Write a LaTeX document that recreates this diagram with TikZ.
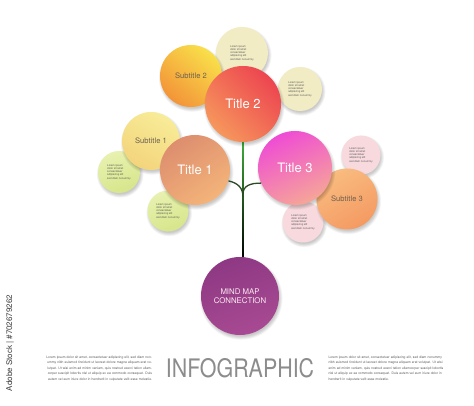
\documentclass[tikz,border=0pt]{standalone}
\usepackage{fontspec}
\setmainfont{TeX Gyre Heros}
\usetikzlibrary{calc}
\definecolor{creamc}{HTML}{F1ECC4}
\definecolor{pinkc}{HTML}{F8DADE}
\definecolor{subtxt}{HTML}{6E6150}
\definecolor{lorem}{HTML}{5A5A5A}
\definecolor{gA}{HTML}{E8F1B0}
\definecolor{gB}{HTML}{D6E68A}
\definecolor{sbA}{HTML}{F9E04A}
\definecolor{sbB}{HTML}{F39438}
\definecolor{saA}{HTML}{F8EC98}
\definecolor{saB}{HTML}{F3D47C}
\definecolor{scA}{HTML}{F9BC80}
\definecolor{scB}{HTML}{F49A62}
\definecolor{tbA}{HTML}{ED4550}
\definecolor{tbB}{HTML}{F6975C}
\definecolor{taA}{HTML}{DD8E6E}
\definecolor{taB}{HTML}{F4B47A}
\definecolor{tcA}{HTML}{EF4CD4}
\definecolor{tcB}{HTML}{F6A698}
\definecolor{mmA}{HTML}{8E3883}
\definecolor{mmB}{HTML}{A84A93}
\definecolor{stemgreen}{HTML}{3FAE3A}
\definecolor{stemdark}{HTML}{22351E}
\definecolor{branchc}{HTML}{2C4A26}
\tikzset{
  bubble/.style={circle, inner sep=0pt, minimum size=#1},
  shadowlayer/.style={fill=black, opacity=0.03},
  smalltext/.style={font=\fontsize{2.7}{3.3}\selectfont, text=lorem, align=left},
  titletext/.style={font=\fontsize{13}{14}\selectfont, text=white},
  subtext/.style={font=\fontsize{7.6}{9}\selectfont, text=subtxt},
  branch/.style={draw=branchc, line width=1.3pt},
  loremblock/.style={font=\fontsize{3.3}{5.4}\selectfont, text=lorem, text width=117pt}
}
\newcommand{\smalllorem}{Lorem ipsum\\dolor sit amet\\consectetuer\\adipiscing elit\\sed diam nonummy}
% soft shadow: x, y, r
\newcommand{\softshadow}[3]{%
  \foreach \k in {0,...,6}{\fill[shadowlayer] ({#1+1.2},{#2+2.4}) circle[radius={#3+0.6*\k-1.2}];}}
% name, x, y, r, options, text
\newcommand{\bub}[6]{\softshadow{#2}{#3}{#4}%
  \node[bubble={2*#4}, #5] (#1) at (#2,#3) {#6};}
\begin{document}
\begin{tikzpicture}[x=1pt,y=-1pt]
\useasboundingbox (0,0) rectangle (474,406);
\fill[white] (0,0) rectangle (474,406);

% stem
\coordinate (stemtop) at (243,142);
\coordinate (stembot) at (243,258);
\coordinate (jl) at (243,197);
\coordinate (jr) at (243,194);
\shade[top color=stemgreen, middle color=stemdark, bottom color=black] ($(stemtop)+(-0.8,0)$) rectangle ($(stembot)+(0.8,0)$);

% small satellite circles
\bub{c1}{242}{53}{26}{fill=creamc}{}
\node[smalltext] at (c1) {\smalllorem};
\bub{c2}{300}{89}{22}{fill=creamc}{}
\node[smalltext] at (c2) {\smalllorem};
\bub{g1}{119}{172}{21}{top color=gA, bottom color=gB, shading angle=20}{}
\node[smalltext] at (g1) {\smalllorem};
\bub{g2}{168}{211}{20.5}{top color=gA, bottom color=gB, shading angle=20}{}
\node[smalltext] at (g2) {\smalllorem};
\bub{p1}{361}{155}{19.5}{fill=pinkc}{}
\node[smalltext] at (p1) {\smalllorem};
\bub{p2}{303}{222}{20.5}{fill=pinkc}{}
\node[smalltext] at (p2) {\smalllorem};

% subtitles
\bub{s2}{191}{76}{31}{top color=sbA, bottom color=sbB, shading angle=-40, subtext}{Subtitle 2}
\bub{s1}{151}{141}{29}{top color=saA, bottom color=saB, shading angle=-30, subtext}{Subtitle 1}
\bub{s3}{347}{199}{30.5}{top color=scA, bottom color=scB, shading angle=30, subtext}{Subtitle 3}

% titles
\bub{t2}{243}{104}{38}{top color=tbA, bottom color=tbB, shading angle=-45, titletext}{Title 2}
\bub{t1}{195}{170}{35}{top color=taA, bottom color=taB, shading angle=35, titletext}{Title 1}
\bub{t3}{295}{168}{37}{top color=tcA, bottom color=tcB, shading angle=25, titletext}{Title 3}

% branches
\draw[branch] (t1.-18) .. controls (238,183) and (243,188) .. (jl);
\draw[branch] (t3.-156) .. controls (250,183) and (243,186) .. (jr);

% root
\bub{mm}{240}{296}{39}{top color=mmA, bottom color=mmB, shading angle=20,
  font=\fontsize{7.8}{9.5}\selectfont, text=white!92!purple, align=center}{MIND MAP\\CONNECTION}

% bottom texts
\node[font=\fontsize{25.5}{27}\selectfont, text=black!45, xscale=0.84] (info) at (240,368) {INFOGRAPHIC};
\node[loremblock, align=right] (lb1) at (93.5,368.5) {Lorem ipsum dolor sit amet, consectetuer adipiscing elit, sed diam nonummy nibh euismod tincidunt ut laoreet dolore magna aliquam erat volutpat. Ut wisi enim ad minim veniam, quis nostrud exerci tation ullamcorper suscipit lobortis nisl ut aliquip ex ea commodo consequat. Duis autem vel eum iriure dolor in hendrerit in vulputate velit esse molestie.};
\node[loremblock, align=left] (lb2) at (387,368.5) {Lorem ipsum dolor sit amet, consectetuer adipiscing elit, sed diam nonummy nibh euismod tincidunt ut laoreet dolore magna aliquam erat volutpat. Ut wisi enim ad minim veniam, quis nostrud exerci tation ullamcorper suscipit lobortis nisl ut aliquip ex ea commodo consequat. Duis autem vel eum iriure dolor in hendrerit in vulputate velit esse molestie.};

% side watermark
\node[rotate=90, font=\fontsize{8}{9}\selectfont, text=black!75] (wm) at (10,343) {Adobe Stock | \#702679262};
\end{tikzpicture}
\end{document}
